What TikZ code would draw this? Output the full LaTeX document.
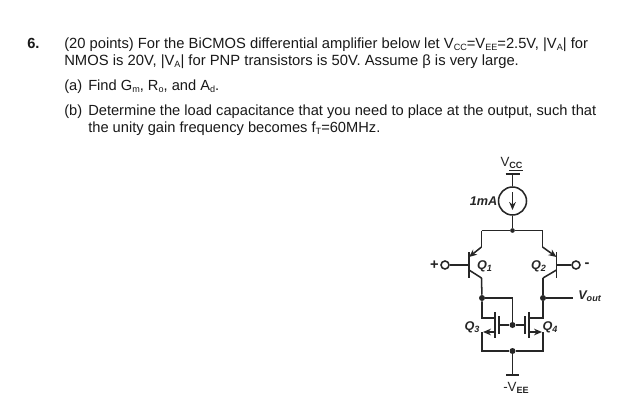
\documentclass[tikz,border=0pt]{standalone}
\usepackage{fontspec}
\setmainfont{Liberation Sans}
\usetikzlibrary{arrows.meta, positioning}
\newcommand{\lowtxt}[1]{\raisebox{-0.3ex}{\fontsize{6.8}{8}\selectfont #1}}
\begin{document}
\begin{tikzpicture}[
    x=0.75pt, y=-0.75pt,
    para/.style={anchor=base west, inner sep=0pt, font=\fontsize{11}{12}\selectfont, text=black!90},
    lbl/.style={inner sep=0pt, font=\fontsize{9.5}{10}\selectfont\bfseries\itshape, text=black!85},
    sup/.style={inner sep=0pt, font=\fontsize{10}{11}\selectfont, text=black!85},
    wire/.style={line width=1.15pt, black!85},
    arr/.style={-{Stealth[length=6pt, width=5pt]}, line width=1.15pt, black!85},
    plate/.style={line width=1.3pt, black!85},
    dot/.style={circle, fill=black!85, inner sep=0pt, minimum size=4.5pt},
    pin/.style={circle, draw=black!85, line width=1.15pt, fill=white, inner sep=0pt, minimum size=6pt},
    src/.style={circle, draw=black!85, line width=1.15pt, inner sep=0pt, minimum size=21pt}
]
\useasboundingbox[fill=white] (0,0) rectangle (624,414);

% problem text
\node[para, font=\fontsize{11}{12}\selectfont\bfseries] (num) at (27,48) {6.};
\node[para, font=\fontsize{11.05}{12}\selectfont] (l1) at (64,48) {(20 points) For the BiCMOS differential amplifier below let V\lowtxt{CC}=V\lowtxt{EE}=2.5V, |V\lowtxt{A}| for};
\node[para, font=\fontsize{11.1}{12}\selectfont] (l2) at (64,65) {NMOS is 20V, |V\lowtxt{A}| for PNP transistors is 50V. Assume β is very large.};
\node[para] (a) at (64,90) {\makebox[18pt][l]{(a)}Find G\lowtxt{m}, R\lowtxt{o}, and A\lowtxt{d}.};
\node[para] (b1) at (64,115.5) {\makebox[18pt][l]{(b)}Determine the load capacitance that you need to place at the output, such that};
\node[para] (b2) at (88,132) {the unity gain frequency becomes f\lowtxt{T}=60MHz.};

% top rail and current source
\coordinate (vccbar) at (512.5,174);
\node[src] (isrc) at (512.5,201) {};
\coordinate (isrctop) at (512.5,192);
\coordinate (isrcbot) at (512.5,210);
\node[dot, minimum size=3.5pt] (tail) at (512.5,230.5) {};
\node[sup] (vcc) at (511.5,164) {V\lowtxt{\textbf{\underline{CC}}}};
\node[lbl, anchor=east] (ilbl) at (497.5,201) {1mA};
\draw[wire] (505.5,174) -- (519.5,174);
\draw[wire] (vccbar) -- (isrc);
\draw[wire] (isrc) -- (tail);
\draw[arr] (isrctop) -- (isrcbot);

% Q1 and Q2
\coordinate (e1) at (481.5,230.5);
\coordinate (e2) at (542.5,230.5);
\coordinate (e1k) at (481.5,247);
\coordinate (e2k) at (542.5,247);
\coordinate (b1t) at (469,257);
\coordinate (b2t) at (556.5,257);
\coordinate (c1k) at (481.5,278);
\coordinate (c2k) at (543,278);
\coordinate (b1m) at (469,265);
\coordinate (b2m) at (556.5,265);
\node[pin] (inp) at (445,265) {};
\node[pin] (inn) at (576,265) {};
\draw[wire] (e1) -- (tail) -- (e2);
\draw[wire] (e1) -- (e1k);
\draw[arr] (e1k) -- (b1t);
\draw[wire] (e2) -- (e2k);
\draw[arr] (e2k) -- (b2t);
\draw[plate] (469,252) -- (469,278);
\draw[plate] (556.5,252) -- (556.5,278);
\draw[wire] (inp) -- (b1m);
\draw[wire] (inn) -- (b2m);
\draw[wire] (469,270) -- (c1k);
\draw[wire] (556.5,270) -- (c2k);
\node[inner sep=0pt, font=\fontsize{11}{12}\selectfont\bfseries, text=black!85] (plus) at (434.5,265) {+};
\node[inner sep=0pt, font=\fontsize{11}{12}\selectfont\bfseries, text=black!85] (minus) at (587,265) {-};
\node[lbl] (q1) at (484.5,266) {Q\lowtxt{1}};
\node[lbl] (q2) at (538.5,266) {Q\lowtxt{2}};

% Q3 and Q4
\node[dot] (d3) at (482,298) {};
\node[dot] (d4) at (543,298) {};
\node[dot] (gate) at (512.5,325) {};
\node[dot] (snk) at (512.5,351) {};
\coordinate (dr3) at (495,318);
\coordinate (dr4) at (529,318);
\coordinate (dk3) at (482,318);
\coordinate (dk4) at (543,318);
\coordinate (sr3) at (495,332);
\coordinate (sr4) at (529,332);
\coordinate (sk3) at (483,332);
\coordinate (sk4) at (542,332);
\coordinate (g3) at (499,325);
\coordinate (g4) at (525,325);
\coordinate (tap) at (512.5,298);
\coordinate (veebar) at (512.5,375);
\coordinate (outend) at (573,298);
\draw[wire] (c1k) -- (d3) -- (dk3) -- (dr3);
\draw[wire] (c2k) -- (d4) -- (dk4) -- (dr4);
\draw[wire] (d3) -- (tap) -- (gate);
\draw[wire] (g3) -- (gate) -- (g4);
\draw[wire] (d4) -- (outend);
\draw[plate] (495,312) -- (495,338);
\draw[plate] (529,312) -- (529,338);
\draw[plate] (499,316) -- (499,334);
\draw[plate] (525,316) -- (525,334);
\draw[arr] (sr3) -- (sk3);
\draw[arr] (sr4) -- (sk4);
\draw[wire] (482,332) -- (482,351) -- (snk);
\draw[wire] (543,332) -- (543,351) -- (snk);
\draw[wire] (snk) -- (veebar);
\draw[wire] (506,375) -- (519,375);
\node[lbl] (q3) at (472,327) {Q\lowtxt{3}};
\node[lbl] (q4) at (550,327) {Q\lowtxt{4}};
\node[lbl, anchor=west] (vout) at (578,296.5) {V\lowtxt{out}};
\node[sup] (vee) at (516,388) {-V\lowtxt{\textbf{EE}}};
\end{tikzpicture}
\end{document}
